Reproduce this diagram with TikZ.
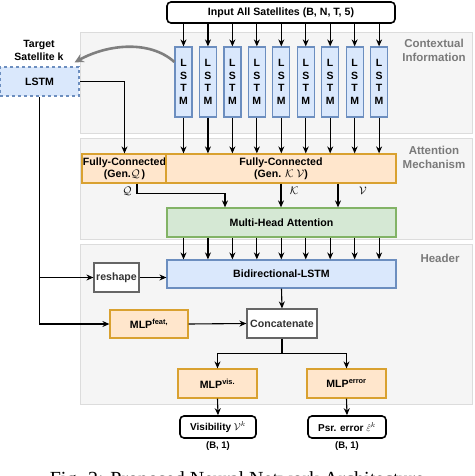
\documentclass[tikz,border=0pt]{standalone}
\usepackage{amsmath,amssymb}
\usepackage{fontspec}
\setmainfont{Liberation Serif}
\setsansfont{Liberation Sans}
\usepackage{tikz}
\usetikzlibrary{positioning,arrows.meta,calc}
\usepackage{xcolor}
\definecolor{lstmfill}{HTML}{DAE8FC}
\definecolor{lstmline}{HTML}{6C8EBF}
\definecolor{fcfill}{HTML}{FFE6CC}
\definecolor{fcline}{HTML}{D9A130}
\definecolor{attfill}{HTML}{D5E8D4}
\definecolor{attline}{HTML}{82B366}
\definecolor{panelfill}{HTML}{F5F5F5}
\definecolor{panelline}{HTML}{DCDCDC}
\definecolor{labelgray}{HTML}{7A7A7A}
\definecolor{curvegray}{HTML}{7F7F7F}

\begin{document}
\begin{tikzpicture}[
    x=1pt, y=-1pt,
    arr/.style={draw, line width=1.1pt, -{Stealth[length=7pt,width=6pt]}},
    curvearr/.style={draw=curvegray, line width=2.6pt, -{Stealth[length=9pt,width=9pt]}},
    panel/.style={draw=panelline, fill=panelfill, line width=0.9pt},
    panellabel/.style={align=center, text=labelgray, font=\sffamily\bfseries\fontsize{11.5}{14}\selectfont},
    blockbox/.style={draw, rectangle, align=center, inner sep=1pt, line width=1.2pt, font=\sffamily\bfseries\fontsize{10.6}{12}\selectfont},
    lstmbox/.style={blockbox, fill=lstmfill, draw=lstmline},
    stackbox/.style={lstmbox, minimum width=17pt, minimum height=70pt, font=\sffamily\bfseries\fontsize{10.5}{12.6}\selectfont},
    fcbox/.style={blockbox, fill=fcfill, draw=fcline},
    attbox/.style={blockbox, fill=attfill, draw=attline},
    plainbox/.style={blockbox, fill=white, draw=black!60, text=black!80},
    iobox/.style={blockbox, fill=white, draw=black, rounded corners=4pt, line width=1.6pt},
    shapelabel/.style={font=\sffamily\bfseries\fontsize{9.5}{11}\selectfont},
    mathlbl/.style={inner sep=0pt, font=\fontsize{10.5}{12}\selectfont}
]
\useasboundingbox (0,0) rectangle (474,476);

% panels
\draw[panel] (80,32) rectangle (472,133);
\draw[panel] (80,138) rectangle (472,239);
\draw[panel] (80,244) rectangle (472,404);
\node[panellabel] (lblctx) at (434,50) {Contextual\\Information};
\node[panellabel] (lblatt) at (434,157.5) {Attention\\Mechanism};
\node[panellabel] (lblhdr) at (440,258) {Header};

\node[iobox, minimum width=228pt, minimum height=21pt] (input) at (281,12.5) {Input All Satellites (B, N, T, 5)};

\foreach \i in {0,...,8} {
    \node[stackbox] (lstm\i) at ({183.5+24.45*\i},82) {L\\S\\T\\M};
    \draw[arr] (lstm\i.north |- input.south) -- (lstm\i.north);
}

\node[blockbox, draw=none, font=\sffamily\bfseries\fontsize{10.5}{13}\selectfont] (tgtlabel) at (39,50.5) {Target\\Satellite k};
\node[lstmbox, dashed, minimum width=79pt, minimum height=29pt] (target) at (39.5,81.5) {LSTM};

\draw[curvearr] ([yshift=20pt]lstm0.west) .. controls (150,40) and (108,44) .. ([xshift=-5pt,yshift=4pt]target.north east);

\node[fcbox, minimum width=83pt, minimum height=29pt] (fcq) at (124.5,168.5) {Fully-Connected\\(Gen.$\mathcal{Q}$\,)};
\node[fcbox, minimum width=230pt, minimum height=29pt] (fckv) at (281,168.5) {Fully-Connected\\(Gen. $\mathcal{K}$ $\mathcal{V}$)};

\foreach \i in {0,...,8} {
    \draw[arr] (lstm\i.south) -- (lstm\i.south |- fckv.north);
}
\draw[arr] (target.east) -| (fcq.north);

\node[attbox, minimum width=229pt, minimum height=29pt] (mha) at (281.5,222.5) {Multi-Head Attention};

\draw[arr] ([xshift=12.5pt]fcq.south) -- ++(0,10) -| ([xshift=-56.5pt]mha.north);
\node[mathlbl] (lblq) at (127,191) {$\mathcal{Q}$};
\draw[arr] (fckv.south) -- (fckv.south |- mha.north);
\node[mathlbl] (lblk) at (294,191) {$\mathcal{K}$};
\draw[arr] ([xshift=57pt]fckv.south) -- ([xshift=57pt]fckv.south |- mha.north);
\node[mathlbl] (lblv) at (363,191) {$\mathcal{V}$};

\node[lstmbox, minimum width=229pt, minimum height=28pt] (bilstm) at (281.5,274) {Bidirectional-LSTM};
\foreach \i in {0,...,8} {
    \draw[arr] (lstm\i.south |- mha.south) -- (lstm\i.south |- bilstm.north);
}

\node[plainbox, minimum width=45pt, minimum height=29pt] (reshape) at (116.5,277.5) {reshape};
\node[plainbox, minimum width=70pt, minimum height=29pt] (concat) at (282,323.5) {Concatenate};
\node[fcbox, minimum width=78pt, minimum height=28pt] (mlpfeat) at (149,324) {MLP\textsuperscript{feat,}};

\draw[arr] (target.south) |- (mlpfeat.west);
\draw[arr] (target.south |- reshape.west) -- (reshape.west);
\draw[arr] (reshape.east) -- (reshape.east -| bilstm.west);
\draw[arr] (bilstm.south) -- (concat.north);
\draw[arr] (mlpfeat.east) -- (concat.west);

\node[fcbox, minimum width=79pt, minimum height=29pt] (mlpvis) at (217.5,383.5) {MLP\textsuperscript{vis.}};
\node[fcbox, minimum width=79pt, minimum height=29pt] (mlperr) at (346.5,383.5) {MLP\textsuperscript{error}};

\coordinate (split) at ([yshift=-15pt]concat.south);
\draw[line width=1.1pt] (concat.south) -- (split);
\draw[arr] (split) -| (mlpvis.north);
\draw[arr] (split) -| (mlperr.north);

\node[iobox, minimum width=76pt, minimum height=22pt, font=\sffamily\bfseries\fontsize{10}{12}\selectfont] (vis) at (218,427) {Visibility $\mathcal{V}^k$};
\node[iobox, minimum width=78pt, minimum height=22pt, font=\sffamily\bfseries\fontsize{10}{12}\selectfont] (psr) at (347,427) {Psr. error $\hat{\varepsilon}^{k}$};
\draw[arr] (mlpvis.south) -- (vis.north);
\draw[arr] (mlperr.south) -- (psr.north);
\node[shapelabel] (shpvis) at (218,446) {(B, 1)};
\node[shapelabel] (shppsr) at (347,446) {(B, 1)};

\node[anchor=base, font=\fontsize{20}{24}\selectfont] (caption) at (237,485) {Fig. 2: Proposed Neural Network Architecture};
\end{tikzpicture}
\end{document}
